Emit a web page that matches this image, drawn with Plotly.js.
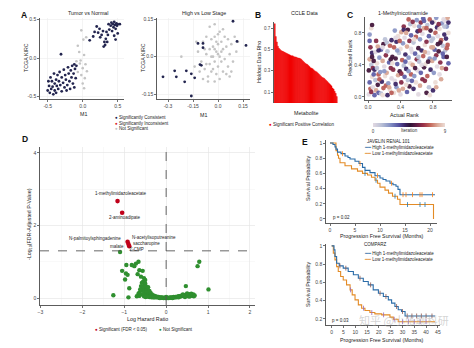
<!DOCTYPE html>
<html><head><meta charset="utf-8">
<script src="https://cdn.plot.ly/plotly-3.0.1.min.js"></script>
<style>html,body{margin:0;padding:0;background:#fff}#chart{width:474px;height:348px}</style>
</head><body><div id="chart"></div>
<script>
// ---------- Panel A : Tumor vs Normal ----------
const tnSignificant = [[0.10,0.23],[0.15,0.28],[0.17,0.34],[0.20,0.41],[0.22,0.33],[0.25,0.27],[0.27,0.30],[0.24,0.38],[0.30,0.15],[0.31,0.21],[0.29,0.35],[0.34,0.34],[0.33,0.25],[0.36,0.30],[0.37,0.44],[0.38,0.37],[0.40,0.42],[0.41,0.46],[0.42,0.35],[0.43,0.44],[0.44,0.40],[0.45,0.47],[0.46,0.43],[0.47,0.38],[0.48,0.45],[0.49,0.42],[0.50,0.44],[0.53,0.44],[0.50,0.32],[0.45,0.29],[0.47,0.24],[0.35,0.21],[0.32,0.17],
 [-0.31,0.05],[-0.50,-0.42],[-0.48,-0.36],[-0.47,-0.45],[-0.45,-0.40],[-0.44,-0.30],[-0.43,-0.37],[-0.42,-0.47],[-0.40,-0.33],[-0.40,-0.42],[-0.38,-0.28],[-0.37,-0.36],[-0.36,-0.22],[-0.35,-0.40],[-0.34,-0.30],[-0.33,-0.18],[-0.32,-0.35],[-0.30,-0.25],[-0.30,-0.43],[-0.28,-0.32],[-0.27,-0.15],[-0.26,-0.38],[-0.25,-0.22],[-0.24,-0.28],[-0.22,-0.35],[-0.21,-0.12],[-0.20,-0.20],[-0.19,-0.30],[-0.18,-0.40],[-0.17,-0.16],[-0.16,-0.25],[-0.15,-0.10],[-0.14,-0.33],[-0.13,-0.20],[-0.12,-0.08],[-0.11,-0.14],[-0.10,-0.26],[-0.09,-0.10],[-0.46,-0.25],[-0.41,-0.20],[-0.23,-0.42],[-0.12,-0.38],[-0.49,-0.30],[-0.38,-0.45]];
const tnNotSig = [[-0.02,0.36],[-0.07,0.16],[0.02,0.04],[-0.03,-0.03],[-0.04,-0.07],[0.00,-0.13],[-0.07,-0.18],[-0.02,-0.22],[0.03,-0.26],[0.00,-0.33],[0.02,-0.39],[0.05,0.27],[0.01,0.24],[-0.05,0.08],[0.04,-0.08],[-0.09,-0.04],[0.06,-0.17]];
// ---------- Panel A : High vs Low Stage ----------
const stSignificant = [[0.09,0.142],[0.114,0.061],[0.168,0.045],[-0.12,0.053],[-0.09,0.053],[-0.09,0.036],[-0.108,-0.032],[-0.10,-0.035],[-0.33,-0.081],[-0.26,-0.057],[-0.25,-0.081],[-0.19,-0.057],[-0.16,-0.069],[-0.20,-0.101],[-0.14,-0.085],[-0.16,-0.158]];
const stNotSig = [[-0.22,0.0],[0.0,0.09],[-0.12,0.02],[-0.10,-0.02],[-0.09,0.06],[-0.08,-0.05],[-0.07,0.01],[-0.07,0.08],[-0.06,-0.08],[-0.05,0.03],[-0.05,-0.03],[-0.04,0.07],[-0.04,-0.06],[-0.03,0.0],[-0.03,0.04],[-0.02,-0.02],[-0.02,0.08],[-0.01,0.02],[-0.01,-0.07],[0.0,0.05],[0.0,-0.04],[0.01,0.0],[0.01,0.1],[0.02,-0.02],[0.02,0.06],[0.03,-0.06],[0.03,0.03],[0.04,0.08],[0.04,-0.01],[0.05,0.04],[0.06,-0.04],[0.06,0.07],[0.07,0.01],[0.08,0.05],[0.09,-0.02],[0.1,0.08],[-0.11,-0.06],[-0.08,0.03],[-0.06,-0.1],[-0.04,0.0],[-0.02,0.03],[0.0,0.01],[-0.09,-0.09],[-0.02,-0.1],[0.01,-0.09],[-0.13,0.06],[0.05,-0.07],[-0.05,0.12],[-0.02,0.13],[0.03,0.11],[-0.14,-0.04],[0.07,-0.08],[0.11,0.02],[-0.03,-0.05],[0.02,0.02],[-0.07,-0.03],[-0.01,0.06],[0.12,0.06],[0.08,-0.06]];
// ---------- Panel B : CCLE holdout rho (sorted) ----------
const ccleRho = [0.74,0.62,0.57,0.53,0.51,0.50,0.49,0.485,0.48,0.475,0.47,0.465,0.46,0.455,0.45,0.445,0.44,0.44,0.435,0.43,0.43,0.425,0.42,0.42,0.415,0.41,0.40,0.39,0.38,0.37,0.365,0.36,0.35,0.34,0.33,0.325,0.32,0.31,0.30,0.295,0.29,0.28,0.27,0.26,0.25,0.24,0.235,0.23,0.22,0.21,0.20,0.19,0.18,0.17,0.16,0.14,0.13,0.11,0.09,0.06];
// ---------- Panel C : actual rank, predicted rank, iteration ----------
const rankPoints = [
[0.01,0.03,0],[0.03,0.10,7],[0.02,0.18,3],[0.05,0.25,9],[0.01,0.33,5],[0.04,0.40,1],[0.02,0.47,8],[0.05,0.55,4],[0.03,0.62,6],[0.02,0.78,2],[0.04,0.86,9],[0.06,0.12,0],[0.06,0.36,6],
[0.08,0.02,3],[0.10,0.08,8],[0.12,0.15,5],[0.09,0.21,1],[0.13,0.28,7],[0.08,0.34,4],[0.11,0.42,9],[0.14,0.49,2],[0.09,0.56,0],[0.12,0.63,8],[0.10,0.70,6],[0.13,0.05,3],[0.07,0.45,5],
[0.16,0.04,1],[0.19,0.11,7],[0.17,0.19,4],[0.21,0.26,9],[0.15,0.31,2],[0.20,0.38,0],[0.18,0.45,8],[0.22,0.52,6],[0.16,0.59,3],[0.19,0.66,5],[0.21,0.72,1],[0.22,0.14,7],
[0.24,0.02,4],[0.27,0.09,9],[0.25,0.17,2],[0.29,0.23,0],[0.23,0.30,8],[0.28,0.36,6],[0.26,0.43,3],[0.30,0.50,5],[0.24,0.57,1],[0.27,0.64,7],[0.29,0.71,4],
[0.32,0.05,9],[0.35,0.12,2],[0.33,0.20,0],[0.37,0.27,8],[0.31,0.34,6],[0.36,0.41,3],[0.34,0.48,5],[0.38,0.55,1],[0.32,0.62,7],[0.35,0.69,4],[0.37,0.76,9],[0.33,0.83,2],
[0.40,0.03,0],[0.43,0.10,8],[0.41,0.18,6],[0.45,0.25,3],[0.39,0.32,5],[0.44,0.39,1],[0.42,0.46,7],[0.46,0.53,4],[0.40,0.60,9],[0.43,0.67,2],[0.45,0.74,0],[0.41,0.81,8],[0.44,0.88,6],
[0.48,0.06,3],[0.51,0.13,5],[0.49,0.21,1],[0.53,0.28,7],[0.47,0.35,4],[0.52,0.42,9],[0.50,0.49,2],[0.54,0.56,0],[0.48,0.63,8],[0.51,0.70,6],[0.53,0.77,3],[0.49,0.84,5],[0.52,0.91,1],[0.50,0.97,7],
[0.56,0.10,4],[0.59,0.18,9],[0.57,0.26,2],[0.61,0.33,0],[0.55,0.40,8],[0.60,0.47,6],[0.58,0.54,3],[0.62,0.61,5],[0.56,0.68,1],[0.59,0.75,7],[0.61,0.82,4],[0.57,0.89,9],[0.60,0.96,2],[0.62,0.03,0],
[0.64,0.14,8],[0.67,0.22,6],[0.65,0.30,3],[0.69,0.37,5],[0.63,0.44,1],[0.68,0.51,7],[0.66,0.58,4],[0.70,0.65,9],[0.64,0.72,2],[0.67,0.79,0],[0.69,0.86,8],[0.65,0.93,6],[0.68,0.98,3],
[0.72,0.05,5],[0.75,0.12,1],[0.73,0.26,7],[0.77,0.34,4],[0.71,0.41,9],[0.76,0.48,2],[0.74,0.55,0],[0.78,0.62,8],[0.72,0.69,6],[0.75,0.76,3],[0.77,0.83,5],[0.73,0.90,1],[0.76,0.97,7],
[0.80,0.08,4],[0.83,0.18,9],[0.81,0.30,2],[0.85,0.38,0],[0.79,0.45,8],[0.84,0.52,6],[0.82,0.59,3],[0.86,0.66,5],[0.80,0.73,1],[0.83,0.80,7],[0.85,0.87,4],[0.81,0.94,9],[0.84,0.99,2],
[0.88,0.28,0],[0.91,0.36,8],[0.89,0.43,6],[0.93,0.50,3],[0.87,0.57,5],[0.92,0.64,1],[0.90,0.71,7],[0.94,0.78,4],[0.88,0.85,9],[0.91,0.92,2],[0.93,0.97,0],[0.90,0.22,8],
[0.96,0.35,6],[0.99,0.42,3],[0.97,0.50,5],[0.95,0.58,1],[0.98,0.65,7],[0.96,0.73,4],[0.99,0.80,9],[0.97,0.88,2],[0.95,0.95,0],[0.98,0.99,8],
[0.04,0.06,6],[0.07,0.28,3],[0.05,0.50,5],[0.11,0.36,1],[0.14,0.22,7],[0.13,0.58,4],[0.18,0.02,9],[0.20,0.32,2],[0.18,0.62,0],[0.26,0.12,8],
[0.28,0.47,5],[0.23,0.68,1],[0.29,0.05,7],[0.34,0.16,4],[0.30,0.42,9],[0.36,0.58,2],[0.34,0.74,0],[0.38,0.08,8],[0.41,0.29,6],[0.46,0.44,3],
[0.39,0.70,7],[0.44,0.84,4],[0.47,0.15,9],[0.50,0.32,2],[0.53,0.60,0],[0.47,0.80,8],[0.55,0.94,6],[0.54,0.20,3],[0.58,0.36,5],[0.62,0.50,1],
[0.57,0.72,9],[0.63,0.88,2],[0.66,0.40,0],[0.70,0.56,8],[0.64,0.83,6],[0.69,0.95,3],[0.74,0.44,5],[0.78,0.70,1],[0.72,0.86,7],[0.79,0.93,4],
[0.82,0.48,2],[0.86,0.76,0],[0.80,0.62,8],[0.87,0.91,6],[0.92,0.54,3],[0.89,0.68,5],[0.94,0.88,1],[0.97,0.61,7],[0.99,0.93,4],[0.76,0.02,9],
[0.84,0.12,8],[0.70,0.20,6],[0.02,0.70,3],[0.05,0.90,5]];
// ---------- Panel D : volcano ----------
const sigMetabolites = [[-1.16,2.67],[-1.05,2.35],[-0.92,1.55],[-0.90,1.49],[-0.88,1.43]];
const sigLabels = [
  {t:'1-methylimidazoleacetate',x:-1.08,y:2.87},{t:'2-aminoadipate',x:-0.98,y:2.21},
  {t:'N-palmitoylsphingadenine',x:-1.69,y:1.63},{t:'N-acetylisoputreanine',x:-0.28,y:1.67},
  {t:'saccharopine',x:-0.48,y:1.50},{t:'malate',x:-1.17,y:1.41},{t:"3'-CMP",x:-0.71,y:1.33}];
const nsMetabolites = [[-1.26,0.08],[-1.05,0.75],[-0.96,0.68],[-0.92,0.64],[-0.98,0.51],[-0.95,0.91],[-0.82,0.91],[-0.76,0.88],[-0.72,0.95],[-0.66,1.0],[-0.64,0.77],[-0.56,0.75],[-0.68,0.66],[-0.6,0.59],[-0.55,0.45],[-0.52,0.36],[-0.6,0.33],[-0.48,0.27],[-0.88,0.27],[-0.64,0.15],[-0.9,0.02],[0.79,1.0],[0.75,0.88],[0.47,0.33],[1.01,0.24],[-1.1,1.27],
[-0.58,0.42],[-0.56,0.3],[-0.54,0.22],[-0.52,0.18],[-0.5,0.4],[-0.5,0.14],[-0.48,0.32],[-0.47,0.1],[-0.46,0.22],[-0.45,0.16],[-0.44,0.08],[-0.43,0.3],[-0.42,0.12],[-0.41,0.06],[-0.4,0.2],[-0.39,0.1],[-0.38,0.05],[-0.37,0.14],[-0.36,0.08],[-0.35,0.04],[-0.34,0.1],[-0.33,0.06],[-0.32,0.03],[-0.3,0.07],[-0.29,0.04],[-0.28,0.02],[-0.26,0.05],[-0.25,0.03],[-0.23,0.02],[-0.22,0.04],[-0.2,0.02],[-0.18,0.03],[-0.16,0.01],[-0.14,0.02],[-0.12,0.01],[-0.1,0.02],[-0.08,0.01],[-0.06,0.0],[-0.04,0.01],[-0.02,0.0],[0.0,0.01],[0.02,0.0],[0.04,0.01],[0.06,0.0],[0.08,0.01],[0.1,0.02],[0.12,0.01],[0.14,0.02],[0.16,0.01],[0.18,0.03],[0.2,0.02],[0.22,0.03],[0.24,0.02],[0.26,0.04],[0.28,0.03],[0.3,0.05],[0.32,0.04],[0.34,0.06],[0.36,0.05],[0.38,0.07],[0.4,0.06],[0.42,0.08],[0.44,0.05],[0.46,0.09],[0.48,0.07],[0.5,0.1],[0.52,0.06],[0.54,0.08],[0.56,0.11],[0.58,0.07],[0.6,0.09],[0.62,0.06],[0.64,0.08],[0.66,0.05],[-0.62,0.1],[-0.64,0.06],[-0.66,0.12],[-0.7,0.05],[-0.55,0.1],[-0.53,0.05],[-0.49,0.06],[-0.57,0.2],[-0.62,0.24],[-0.5,0.5],[-0.53,0.55],[-0.49,0.03],[-0.45,0.04],[-0.4,0.03],[-0.35,0.02],[-0.3,0.02],[-0.15,0.0],[0.0,0.03],[0.15,0.0],[0.3,0.02],[0.45,0.03],[0.55,0.04],[0.6,0.12],[0.5,0.13],[0.4,0.1],[0.65,0.1],[0.68,0.07]];
const fdrThreshold = 0.05;
// ---------- Panel E : Kaplan-Meier ----------
const javHighT = [0,0.6,1.0,1.2,1.5,2.2,3.0,3.6,4.0,5.0,5.8,6.5,7.0,8.0,9.0,10.0,10.6,11.2,12.0,12.6,13.2,13.6,14.0,21.0];
const javHighS = [1,0.98,0.95,0.92,0.88,0.86,0.83,0.81,0.79,0.76,0.73,0.68,0.64,0.61,0.57,0.54,0.52,0.50,0.47,0.45,0.43,0.39,0.32,0.32];
const javLowT = [0,1.2,1.5,1.7,2.0,3.0,4.3,5.5,6.5,7.5,8.3,9.0,9.5,10.0,11.0,11.7,12.5,13.5,14.0,20.7];
const javLowS = [1,0.9,0.84,0.8,0.74,0.7,0.66,0.63,0.6,0.58,0.55,0.51,0.47,0.42,0.38,0.34,0.3,0.26,0.19,0];
const javHighCens = [2.5,6.0,9.5,12.3,14.6,15.2,16.5,18.0,18.4,20.5];
const javLowCens = [7.0,9.2,13.0,15.5,18.0,19.0];
const czHighT = [0,1.0,1.4,2.1,3.2,4.9,7.0,9.2,11.3,13.4,15.5,17.6,19.8,21.9,24.0,25.4,26.8,28.2,29.6,31.1,43.8];
const czHighS = [1,0.956,0.883,0.81,0.781,0.756,0.719,0.683,0.646,0.61,0.573,0.518,0.482,0.446,0.409,0.373,0.336,0.3,0.282,0.233,0.233];
const czLowT = [0,0.7,1.4,2.1,2.8,3.8,4.9,6.3,7.8,8.7,9.9,11.3,12.7,14.1,16.2,18.3,21.2,24.7,26.1,28.2,43.8];
const czLowS = [1,0.92,0.846,0.773,0.719,0.664,0.627,0.573,0.518,0.463,0.409,0.354,0.318,0.292,0.27,0.256,0.245,0.22,0.197,0.17,0.17];
const czHighCens = [3.5,6.0,12.0,16.5,20.5,23.0,27.5,30.0,32.0,34.0,36.0,38.0,40.0,42.5];
const czLowCens = [8.0,13.5,17.0,22.0,26.5,30.0,32.5,35.0,37.5,40.0];

// ---------- helpers ----------
const W = 474, H = 348;
const fx = p => p / W, fy = p => 1 - p / H;
const col = (arr, i) => arr.map(r => r[i]);
const NAVY = '#23254f', GRAY = '#c4c4c4', RED = '#c0001a', GREEN = '#2f8f2f', BLUE = '#2b6ca8', ORANGE = '#e38b26';
function survAt(T, S, t) { let s = S[0]; for (let i = 0; i < T.length; i++) if (T[i] <= t) s = S[i]; return s; }

const traces = [];
function pts(data, ax, ay, color, size, extra) {
  traces.push(Object.assign({x: col(data,0), y: col(data,1), mode:'markers', xaxis:ax, yaxis:ay,
    marker:{color, size, line:{width:0}}, hoverinfo:'skip'}, extra || {}));
}
pts(tnNotSig, 'x', 'y', GRAY, 2.6);
pts(tnSignificant, 'x', 'y', NAVY, 2.8);
pts(stNotSig, 'x2', 'y2', GRAY, 2.6);
pts(stSignificant, 'x2', 'y2', NAVY, 2.8);
traces.push({type:'bar', x: ccleRho.map((_, i) => i), y: ccleRho, xaxis:'x3', yaxis:'y3', width:1,
  marker:{color:'#f00000', line:{color:'#f00000', width:0.4}}, hoverinfo:'skip'});
traces.push({x: col(rankPoints,0), y: col(rankPoints,1), mode:'markers', xaxis:'x4', yaxis:'y4', hoverinfo:'skip',
  marker:{size:4.7, color: col(rankPoints,2), cmin:0, cmax:9, opacity:0.95,
    colorscale:[[0,'#e2d9e2'],[0.12,'#b9c0d6'],[0.25,'#7f8cc2'],[0.36,'#5551a0'],[0.45,'#3b2462'],[0.52,'#2f1436'],[0.6,'#5e1c46'],[0.7,'#9a3248'],[0.8,'#c56a5c'],[0.9,'#dcae9c'],[1,'#ecdcd6']],
    colorbar:{orientation:'h', x:fx(409), xanchor:'center', y:fy(123), yanchor:'top', len:72, lenmode:'pixels',
      thickness:3.5, thicknessmode:'pixels', tickvals:[0,9], ticktext:['0','9'], ticks:'', outlinewidth:0,
      tickfont:{size:4.5, color:'#444'}, xpad:0, ypad:0}}});
pts(nsMetabolites, 'x5', 'y5', GREEN, 4.4);
pts(sigMetabolites, 'x5', 'y5', RED, 4.6);
function km(T, S, ax, ay, color) {
  traces.push({x:T, y:S, mode:'lines', xaxis:ax, yaxis:ay, line:{shape:'hv', color, width:1.1}, hoverinfo:'skip'});
}
function cens(C, T, S, ax, ay, color) {
  traces.push({x:C, y:C.map(t => survAt(T, S, t)), mode:'markers', xaxis:ax, yaxis:ay, hoverinfo:'skip',
    marker:{symbol:'line-ns-open', size:3.5, line:{color, width:0.8}}});
}
km(javLowT, javLowS, 'x6', 'y6', ORANGE); km(javHighT, javHighS, 'x6', 'y6', BLUE);
cens(javLowCens, javLowT, javLowS, 'x6', 'y6', ORANGE); cens(javHighCens, javHighT, javHighS, 'x6', 'y6', BLUE);
km(czLowT, czLowS, 'x7', 'y7', ORANGE); km(czHighT, czHighS, 'x7', 'y7', BLUE);
cens(czLowCens, czLowT, czLowS, 'x7', 'y7', ORANGE); cens(czHighCens, czHighT, czHighS, 'x7', 'y7', BLUE);

// ---------- axes ----------
const base = {showline:true, linecolor:'#333', linewidth:0.8, ticks:'outside', ticklen:2, tickwidth:0.7, tickcolor:'#333',
  tickfont:{size:5, color:'#444'}, zeroline:false, showgrid:false, fixedrange:true};
const ax = o => Object.assign({}, base, o);
const gridA = {showgrid:true, gridcolor:'#ececec', gridwidth:0.6};
const layout = {
  width:W, height:H, margin:{l:0,r:0,t:0,b:0}, paper_bgcolor:'#fff', plot_bgcolor:'#fff', showlegend:false,
  font:{family:'Liberation Sans, Arial, sans-serif', size:5, color:'#333'},
  xaxis: ax(Object.assign({domain:[fx(40),fx(124)], range:[-0.61,0.59], anchor:'y', tickvals:[-0.5,0,0.5], ticktext:['-0.5','0.0','0.5']}, gridA)),
  yaxis: ax(Object.assign({domain:[fy(99),fy(18)], range:[-0.53,0.52], anchor:'x', tickvals:[-0.5,0,0.5], ticktext:['-0.5','0.0','0.5']}, gridA)),
  xaxis2: ax(Object.assign({domain:[fx(157),fx(250)], range:[-0.366,0.192], anchor:'y2', tickvals:[-0.3,-0.15,0,0.15], ticktext:['-0.3','-0.15','0.0','0.15']}, gridA)),
  yaxis2: ax(Object.assign({domain:[fy(99),fy(18)], range:[-0.17,0.155], anchor:'x2', tickvals:[-0.15,0,0.15], ticktext:['-0.15','0.0','0.15']}, gridA)),
  xaxis3: ax({domain:[fx(274),fx(340)], range:[-0.7,62.1], anchor:'y3', showline:false, ticks:'', showticklabels:false}),
  yaxis3: ax({domain:[fy(103),fy(22)], range:[0,0.756], anchor:'x3', tickvals:[0.1,0.3,0.5,0.7], ticktext:['0.1','0.3','0.5','0.7'], tickfont:{size:4.5, color:'#444'}}),
  xaxis4: ax({domain:[fx(365),fx(452)], range:[-0.037,1.034], anchor:'y4', tickvals:[0,0.4,0.8], ticktext:['0.0','0.4','0.8']}),
  yaxis4: ax({domain:[fy(100),fy(17)], range:[-0.04,1.0], anchor:'x4', tickvals:[0,0.4,0.8], ticktext:['0.0','0.4','0.8']}),
  xaxis5: ax({domain:[fx(40),fx(255)], range:[-3.01,2.12], anchor:'y5', tickvals:[-3,-2,-1,0,1,2], showgrid:true, gridcolor:'#e6e6e6', gridwidth:0.6,
    minor:{tick0:-3, dtick:0.5, showgrid:true, gridcolor:'#f3f3f3', gridwidth:0.5}}),
  yaxis5: ax({domain:[fy(305),fy(147)], range:[-0.19,4.16], anchor:'x5', tickvals:[0,2,4], showgrid:true, gridcolor:'#e6e6e6', gridwidth:0.6,
    minor:{tick0:0, dtick:1, showgrid:true, gridcolor:'#f3f3f3', gridwidth:0.5}}),
  xaxis6: ax({domain:[fx(326),fx(437)], range:[-0.8,21.4], anchor:'y6', tickvals:[0,5,10,15,20]}),
  yaxis6: ax({domain:[fy(223),fy(140)], range:[-0.053,1.04], anchor:'x6', tickvals:[0,0.2,0.4,0.6,0.8,1], ticktext:['0','0.2','0.4','0.6','0.8','1']}),
  xaxis7: ax({domain:[fx(326),fx(440)], range:[-2.4,45.9], anchor:'y7', tickvals:[0,5,10,15,20,25,30,35,40,45]}),
  yaxis7: ax({domain:[fy(325),fy(244)], range:[0.134,1.02], anchor:'x7', tickvals:[0.2,0.4,0.6,0.8,1], ticktext:['0.2','0.4','0.6','0.8','1']}),
  shapes: [
    {type:'line', xref:'x5', yref:'y5 domain', x0:0, x1:0, y0:0, y1:1, line:{color:'#555', width:0.9, dash:'dash'}},
    {type:'line', xref:'x5 domain', yref:'y5', x0:0, x1:1, y0:-Math.log10(fdrThreshold), y1:-Math.log10(fdrThreshold), line:{color:'#555', width:0.9, dash:'dash'}}
  ],
  annotations: []
};
const A = layout.annotations;
function txt(text, px, py, o) {
  A.push(Object.assign({text, x:fx(px), y:fy(py), xref:'paper', yref:'paper', showarrow:false,
    xanchor:'center', yanchor:'middle', font:{size:5.3, color:'#222'}}, o || {}));
}
const bold = {font:{size:8.5, color:'#111', family:'Liberation Sans, Arial, sans-serif'}};
txt('<b>A</b>', 24, 15, bold); txt('<b>B</b>', 258, 15, bold); txt('<b>C</b>', 350, 15, bold);
txt('<b>D</b>', 25, 139, bold); txt('<b>E</b>', 305, 142, bold);
txt('Tumor vs Normal', 88, 13); txt('High vs Low Stage', 204, 13); txt('CCLE Data', 304, 13); txt('1-Methylnicotinamide', 403, 13);
txt('TCGA KIRC', 26, 58, {textangle:-90}); txt('TCGA KIRC', 143, 58, {textangle:-90});
txt('M1', 83, 114); txt('M1', 203, 115);
txt('Holdout Data Rho', 259, 62, {textangle:-90}); txt('Metabolite', 306, 113);
txt('Predicted Rank', 350, 58, {textangle:-90}); txt('Actual Rank', 404, 115);
txt('Iteration', 409, 131, {font:{size:4.5, color:'#333'}});
const lg = {xanchor:'left', font:{size:4.5, color:'#222'}};
txt('<span style="color:'+NAVY+'">●</span> Significantly Consistent', 113, 118, lg);
txt('<span style="color:#d81b1b">●</span> Significantly Inconsistent', 113, 123, lg);
txt('<span style="color:'+GRAY+'">●</span> Not Significant', 113, 128, lg);
txt('<span style="color:#f00000">●</span> Significant Positive Correlation', 267, 124, lg);
txt('-Log<sub>10</sub>(FDR-Adjusted P-Value)', 29, 224, {textangle:-90});
txt('Log Hazard Ratio', 147, 319);
txt('<span style="color:'+RED+'">●</span> Significant (FDR &lt; 0.05)', 93, 329, lg);
txt('<span style="color:'+GREEN+'">●</span> Not Significant', 157, 329, lg);
sigLabels.forEach(l => A.push({text:l.t, x:l.x, y:l.y, xref:'x5', yref:'y5', showarrow:false, font:{size:4.5, color:'#222'}}));
txt('Survival Probability', 308, 179, {textangle:-90}); txt('Survival Probability', 308, 285, {textangle:-90});
txt('Progression Free Survival (Months)', 382, 236); txt('Progression Free Survival (Months)', 382, 340);
txt('JAVELIN RENAL 101', 365, 141, lg);
txt('<span style="color:'+BLUE+'">━━</span> High 1-methylimidazoleacetate', 362, 147, lg);
txt('<span style="color:'+ORANGE+'">━━</span> Low 1-methylimidazoleacetate', 362, 153, lg);
txt('p = 0.02', 331, 217, lg);
txt('COMPARZ', 362, 245, lg);
txt('<span style="color:'+BLUE+'">━━</span> High 1-methylimidazoleacetate', 362, 253, lg);
txt('<span style="color:'+ORANGE+'">━━</span> Low 1-methylimidazoleacetate', 362, 259, lg);
txt('p = 0.03', 330, 320, lg);
txt('知乎 @小张聊科研', 404, 320, {font:{size:11, color:'rgba(170,170,170,0.5)', family:'Noto Sans CJK SC, sans-serif'}});

Plotly.newPlot('chart', traces, layout, {staticPlot:true, displayModeBar:false});
</script></body></html>
